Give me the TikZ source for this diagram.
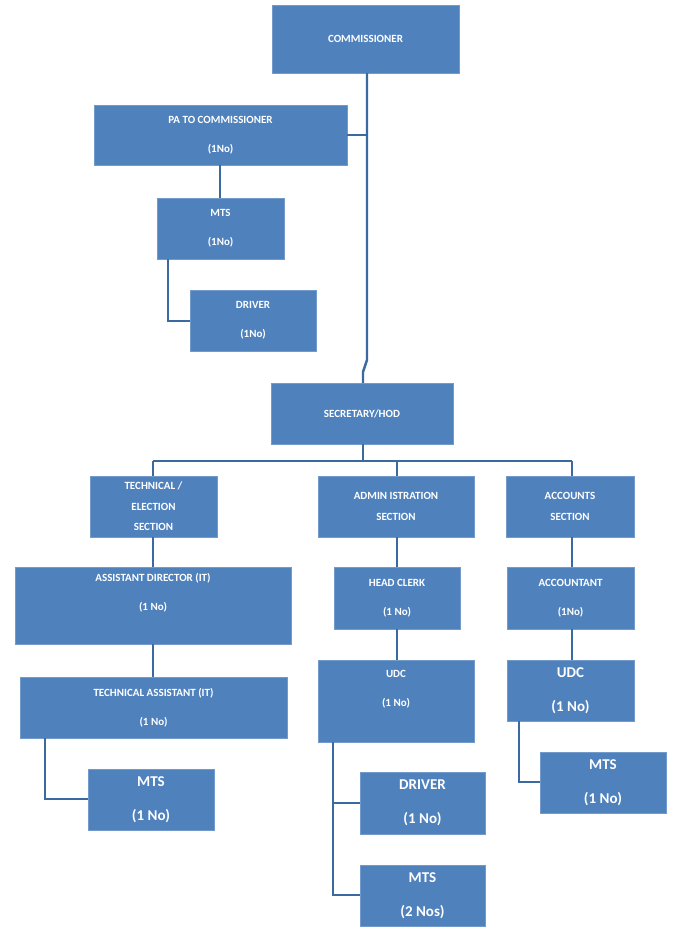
\documentclass[tikz,border=0pt]{standalone}
\usepackage{fontspec}
\setmainfont{Carlito}
\definecolor{boxc}{HTML}{4F81BD}
\definecolor{linec}{HTML}{3B6AA0}
\newcommand{\bx}[7]{% name x1 y1 x2 y2 fontsize/baseline text
  \node[box,minimum width={#4-#2},minimum height={#5-#3},font=#6] (#1) at ({(#2+#4)/2},{(#3+#5)/2}) {#7};}
\begin{document}
\begin{tikzpicture}[x=1pt,y=-1pt,
  box/.style={draw=boxc!80!white,line width=0.8pt,fill=boxc,text=white,align=center,inner sep=0pt},
  ln/.style={draw=linec,line width=2.4pt}]
\useasboundingbox (0,0) rectangle (682,932);
\def\sm{\bfseries\fontsize{11}{29}\selectfont}
\def\lg{\bfseries\fontsize{15}{34}\selectfont}
\bx{com}{272}{5}{459}{73}{\sm}{COMMISSIONER}
\bx{pa}{94}{105}{347}{165}{\sm}{PA TO COMMISSIONER\\(1No)}
\bx{mts1}{157}{198}{284}{259}{\sm}{MTS\\(1No)}
\bx{drv1}{190}{290}{316}{351}{\sm}{DRIVER\\(1No)}
\bx{sec}{271}{383}{453}{444}{\sm}{SECRETARY/HOD}
\bx{tech}{90}{476}{217}{537}{\bfseries\fontsize{11}{20.5}\selectfont}{TECHNICAL /\\ELECTION\\SECTION}
\bx{adm}{318}{476}{474}{537}{\bfseries\fontsize{11}{21}\selectfont}{ADMIN ISTRATION\\SECTION}
\bx{acc}{506}{476}{634}{537}{\bfseries\fontsize{11}{21}\selectfont}{ACCOUNTS\\SECTION}
\bx{ad}{15}{567}{291}{644}{\sm}{ASSISTANT DIRECTOR (IT)\\(1 No)\\[-2pt]\mbox{}}
\bx{ta}{20}{677}{287}{738}{\sm}{TECHNICAL ASSISTANT (IT)\\(1 No)}
\bx{mts2}{88}{769}{214}{830}{\lg}{MTS\\(1 No)}
\bx{hc}{334}{567}{460}{629}{\sm}{HEAD CLERK\\(1 No)}
\bx{udc1}{318}{660}{474}{742}{\sm}{UDC\\(1 No)\\[-4pt]\mbox{}}
\bx{drv2}{360}{772}{485}{834}{\lg}{DRIVER\\(1 No)}
\bx{mts3}{360}{865}{485}{926}{\lg}{MTS\\(2 Nos)}
\bx{acct}{507}{567}{634}{629}{\sm}{ACCOUNTANT\\(1No)}
\bx{udc2}{507}{660}{634}{721}{\lg}{UDC\\(1 No)}
\bx{mts4}{540}{752}{666}{813}{\lg}{MTS\\(1 No)}
\coordinate (c1) at (367,73); \coordinate (c2) at (363,383);
\draw[ln] (c1) -- (367,360) -- (363,372) -- (c2);
\draw[ln] (pa.east |- 0,135) -- (367,135);
\draw[ln] (pa.south -| 220,0) -- (mts1.north -| 220,0);
\draw[ln] (168,259) |- (drv1.west |- 0,321);
\draw[ln] (sec.south -| 363,0) -- (363,461);
\draw[ln] (153,461) -- (572,461);
\draw[ln] (153,461) -- (tech.north -| 153,0);
\draw[ln] (397,461) -- (adm.north -| 397,0);
\draw[ln] (572,461) -- (acc.north -| 572,0);
\draw[ln] (tech.south -| 153,0) -- (ad.north -| 153,0);
\draw[ln] (ad.south -| 153,0) -- (ta.north -| 153,0);
\draw[ln] (45,738) |- (mts2.west |- 0,799);
\draw[ln] (adm.south -| 397,0) -- (hc.north -| 397,0);
\draw[ln] (hc.south -| 397,0) -- (udc1.north -| 397,0);
\draw[ln] (333,742) |- (mts3.west |- 0,895);
\draw[ln] (333,803) -- (drv2.west |- 0,803);
\draw[ln] (acc.south -| 572,0) -- (acct.north -| 572,0);
\draw[ln] (acct.south -| 572,0) -- (udc2.north -| 572,0);
\draw[ln] (519,721) |- (mts4.west |- 0,782);
\end{tikzpicture}
\end{document}
